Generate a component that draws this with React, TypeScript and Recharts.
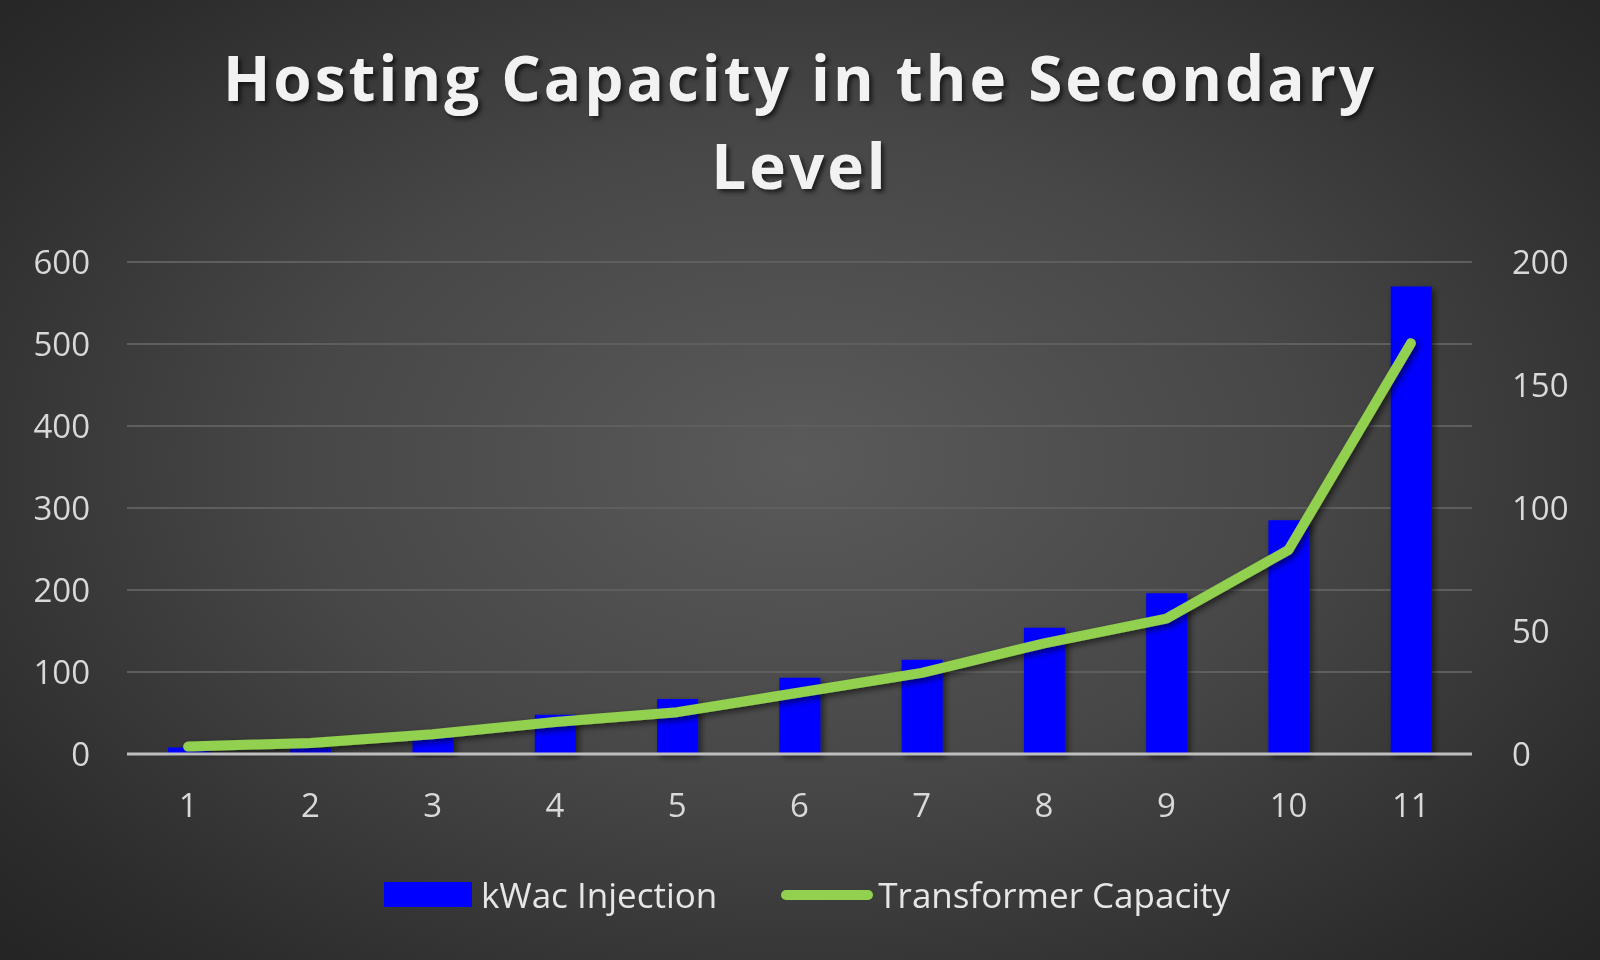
import { ComposedChart, Bar, Line, XAxis, YAxis, CartesianGrid, Legend } from 'recharts'

const categories = ['1', '2', '3', '4', '5', '6', '7', '8', '9', '10', '11']
const kwacInjection = [8, 7, 20, 48, 67, 93, 115, 154, 196, 285, 570]
const transformerCapacity = [3, 4.5, 8, 13, 17, 25, 33, 45, 55, 83, 167]
const leftTicks = [0, 100, 200, 300, 400, 500, 600]
const rightTicks = [0, 50, 100, 150, 200]

const data = categories.map((c, i) => ({
  x: c,
  kwac: kwacInjection[i],
  transformer: transformerCapacity[i],
}))

const FONT = '"Open Sans", "Noto Sans", sans-serif'
const TEXT = '#d9d9d9'

function LegendBox() {
  return (
    <div
      style={{
        display: 'flex',
        justifyContent: 'center',
        alignItems: 'center',
        fontFamily: FONT,
        fontSize: 35,
        color: '#e6e6e6',
        width: 1600,
        paddingLeft: 14,
        boxSizing: 'border-box',
      }}
    >
      <span style={{ display: 'inline-block', width: 88, height: 25, background: '#0000ff', marginRight: 9 }} />
      <span style={{ marginRight: 64 }}>kWac Injection</span>
      <span
        style={{ display: 'inline-block', width: 92, height: 10, borderRadius: 5, background: '#92d050', marginRight: 5 }}
      />
      <span>Transformer Capacity</span>
    </div>
  )
}

export default function App() {
  return (
    <div
      style={{
        position: 'fixed',
        left: 0,
        top: 0,
        width: 1600,
        height: 960,
        background: 'radial-gradient(ellipse 70% 75% at 50% 48%, #5a5a5a 0%, #474747 45%, #2c2c2c 85%, #242424 100%)',
        overflow: 'hidden',
      }}
    >
      <div
        style={{
          position: 'absolute',
          top: 33,
          left: 0,
          width: 1600,
          textAlign: 'center',
          fontFamily: FONT,
          fontWeight: 700,
          fontSize: 62,
          lineHeight: '88px',
          letterSpacing: 3,
          color: '#f2f2f2',
          textShadow: '3px 3px 4px rgba(0,0,0,0.6)',
        }}
      >
        Hosting Capacity in the Secondary
        <br />
        Level
      </div>
      <ComposedChart
        width={1600}
        height={960}
        data={data}
        margin={{ top: 262, right: 0, left: 0, bottom: 0 }}
        barCategoryGap="33%"
      >
        <defs>
          <filter id="shadow" x="-20%" y="-20%" width="140%" height="140%">
            <feDropShadow dx="3" dy="3" stdDeviation="3" floodColor="#000" floodOpacity="0.55" />
          </filter>
        </defs>
        <CartesianGrid vertical={false} stroke="#5e5e5e" strokeWidth={2} yAxisId="left" />
        <XAxis
          dataKey="x"
          height={206}
          axisLine={{ stroke: '#bfbfbf', strokeWidth: 3 }}
          tickLine={false}
          tickSize={0}
          tickMargin={40}
          tick={{ fontSize: 33, fill: TEXT, fontFamily: FONT }}
          interval={0}
        />
        <YAxis
          yAxisId="left"
          domain={[0, 600]}
          ticks={leftTicks}
          width={127}
          axisLine={false}
          tickLine={false}
          tickSize={0}
          tickMargin={37}
          tick={{ fontSize: 33, fill: TEXT, fontFamily: FONT }}
        />
        <YAxis
          yAxisId="right"
          orientation="right"
          domain={[0, 200]}
          ticks={rightTicks}
          width={128}
          axisLine={false}
          tickLine={false}
          tickSize={0}
          tickMargin={40}
          tick={{ fontSize: 33, fill: TEXT, fontFamily: FONT }}
        />
        <Legend
          verticalAlign="middle"
          align="center"
          layout="horizontal"
          wrapperStyle={{ top: 871, left: 0, width: 1600 }}
          content={() => <LegendBox />}
        />
        <Bar
          yAxisId="left"
          dataKey="kwac"
          name="kWac Injection"
          fill="#0000ff"
          barSize={41}
          filter="url(#shadow)"
          isAnimationActive={false}
        />
        <Line
          yAxisId="right"
          type="linear"
          dataKey="transformer"
          name="Transformer Capacity"
          stroke="#92d050"
          strokeWidth={10}
          strokeLinecap="round"
          strokeLinejoin="round"
          dot={false}
          activeDot={false}
          filter="url(#shadow)"
          isAnimationActive={false}
        />
      </ComposedChart>
    </div>
  )
}
